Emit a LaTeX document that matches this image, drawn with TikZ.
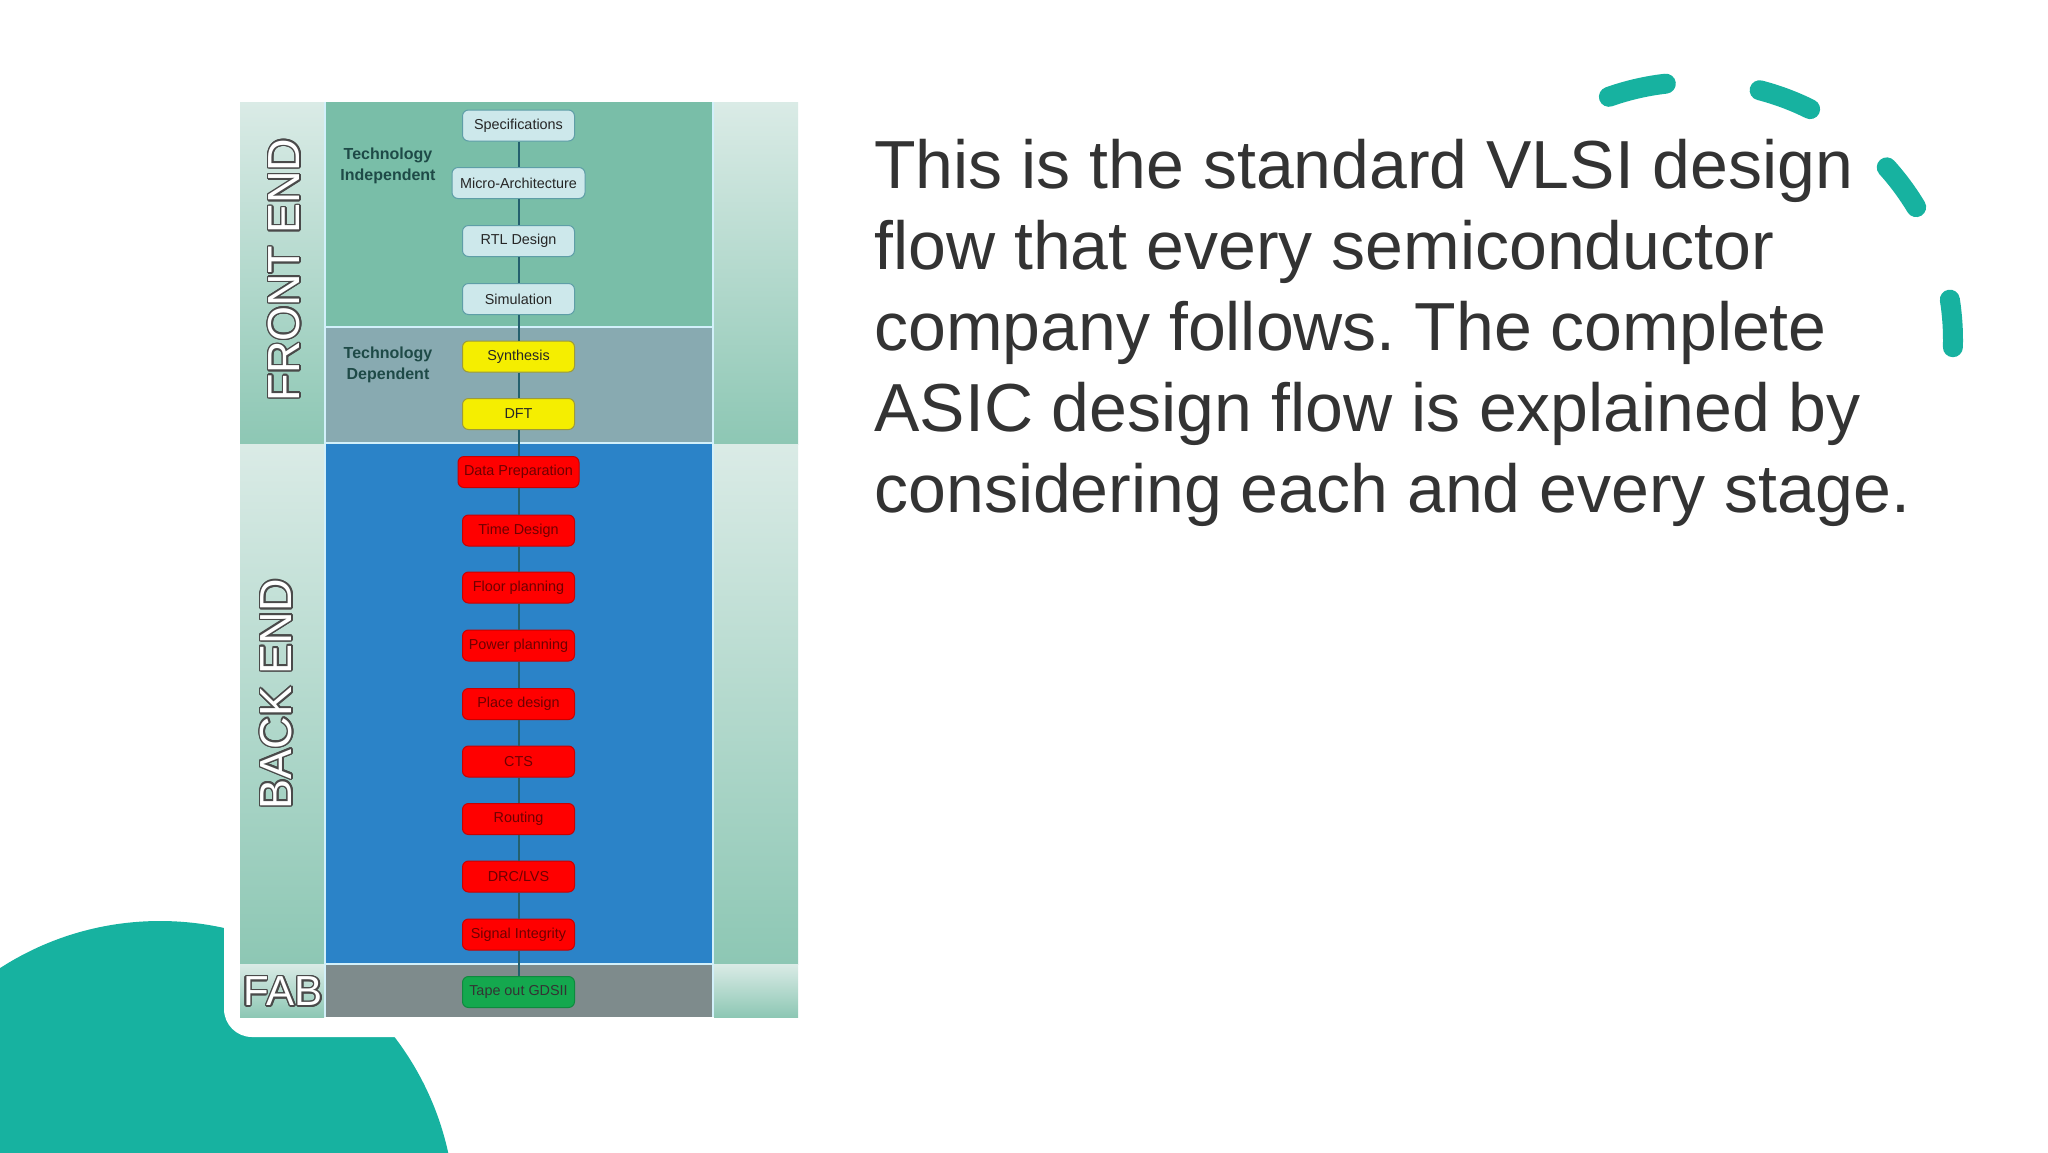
\documentclass[tikz,border=0pt]{standalone}
\usepackage{fontspec}
\setmainfont{Liberation Sans}
\usepackage[copies]{contour}
\usetikzlibrary{calc}
\frenchspacing
\definecolor{ink}{HTML}{333333}
\definecolor{sea}{HTML}{17B2A0}
\definecolor{indep}{HTML}{79BEA8}
\definecolor{dep}{HTML}{88AAB1}
\definecolor{backend}{HTML}{2B83C8}
\definecolor{fabgray}{HTML}{7E8B8C}
\definecolor{stripl}{HTML}{DAEBE6}
\definecolor{stripd}{HTML}{8DC7B4}
\definecolor{sepline}{HTML}{D2F0FA}
\definecolor{flowline}{HTML}{24606E}
\definecolor{labtext}{HTML}{1E4A47}
\definecolor{cyanbox}{HTML}{CDE8EB}
\definecolor{cyanedge}{HTML}{5E9EA7}
\definecolor{yelbox}{HTML}{F5EE00}
\definecolor{yeledge}{HTML}{9C9A3A}
\definecolor{redbox}{HTML}{FF0000}
\definecolor{rededge}{HTML}{C80000}
\definecolor{redtext}{HTML}{6E0000}
\definecolor{grnbox}{HTML}{14A84E}
\definecolor{grnedge}{HTML}{0E8A3E}
\definecolor{outl}{HTML}{4A4A4A}
\contourlength{0.8pt}
\tikzset{
  stage/.style={draw,line width=.5pt,rounded corners=3pt,minimum width=56pt,minimum height=15.5pt,inner sep=0pt,font=\fontsize{7.2}{8}\selectfont},
  stagefe/.style={stage,fill=cyanbox,draw=cyanedge,text=black!85},
  stagetd/.style={stage,fill=yelbox,draw=yeledge,text=black!85},
  stagebe/.style={stage,fill=redbox,draw=rededge,text=redtext},
  stagefab/.style={stage,fill=grnbox,draw=grnedge,text=black!80},
  tech/.style={align=center,font=\fontsize{8}{10.5}\selectfont\bfseries,text=labtext},
  side/.style={text=white,inner sep=0pt,font=\fontsize{22.5}{24}\selectfont},
  strip/.style={top color=stripl,bottom color=stripd},
  sep/.style={draw=sepline,line width=1.2pt},
  link/.style={draw=flowline,line width=1pt},
  ring/.style={draw=sea,line width=10pt,line cap=round},
  para/.style={align=left,anchor=north west,inner sep=0pt,text=ink,font=\fontsize{34}{40.5}\selectfont},
}
\begin{document}
\begin{tikzpicture}[x=0.5pt,y=-0.5pt]
\useasboundingbox (0,0) rectangle (2048,1152);
\clip (0,0) rectangle (2048,1152);
% slide decoration
\fill[sea] (160,1216) circle[radius=295];
\foreach \s/\e in {-109.5/-96.5,-75.5/-63.5,-42/-31,-9/1.6}
  \draw[ring] ($(1695,340)+(\s:258)$) arc[start angle=\s,end angle=\e,radius=258];
\fill[white,rounded corners=14pt] (224,40) rectangle (840,1037);
% side strips
\shade[strip] (240,102) rectangle (324,444);
\shade[strip] (240,444) rectangle (324,964);
\shade[strip] (240,964) rectangle (324,1017);
\shade[strip] (714,102) rectangle (798,444);
\shade[strip] (714,444) rectangle (798,964);
\shade[strip] (714,964) rectangle (798,1017);
% centre panel
\fill[indep] (326,102) rectangle (712,327);
\fill[dep] (326,327) rectangle (712,443);
\fill[backend] (326,443) rectangle (712,964);
\fill[fabgray] (326,964) rectangle (712,1017);
\draw[sep] (326,327) -- (712,327);
\draw[sep] (326,443) -- (712,443);
\draw[sep] (326,964) -- (712,964);
\draw[sep] (325,102) -- (325,1017);
\draw[sep] (713,102) -- (713,1017);
\node[side,rotate=90] (fe) at (285,270) {\contour{outl}{FRONT END}};
\node[side,rotate=90] (be) at (277,694) {\contour{outl}{BACK END}};
\node[side,font=\fontsize{21}{22}\selectfont] (fab) at (283,992) {\contour{outl}{FAB}};
\node[tech] (ti) at (388,166) {Technology\\Independent};
\node[tech] (td) at (388,365) {Technology\\Dependent};
% flow
\node[stagefe] (spec) at (518.5,125.5) {Specifications};
\node[stagefe,minimum width=66.5pt] (march) at (518.5,183) {Micro-Architecture};
\node[stagefe] (rtl) at (518.5,241) {RTL Design};
\node[stagefe] (sim) at (518.5,299) {Simulation};
\node[stagetd] (syn) at (518.5,356.5) {Synthesis};
\node[stagetd] (dft) at (518.5,414) {DFT};
\node[stagebe,minimum width=60.5pt] (dprep) at (518.5,472) {Data Preparation};
\node[stagebe] (tdes) at (518.5,530.5) {Time Design};
\node[stagebe] (floor) at (518.5,587.5) {Floor planning};
\node[stagebe] (power) at (518.5,645.5) {Power planning};
\node[stagebe] (place) at (518.5,704) {Place design};
\node[stagebe] (cts) at (518.5,761.5) {CTS};
\node[stagebe] (route) at (518.5,819) {Routing};
\node[stagebe] (drc) at (518.5,876.5) {DRC/LVS};
\node[stagebe] (si) at (518.5,934.5) {Signal Integrity};
\node[stagefab] (tape) at (518.5,992) {Tape out GDSII};
\foreach \a/\b in {spec/march,march/rtl,rtl/sim,sim/syn,syn/dft,dft/dprep,dprep/tdes,tdes/floor,floor/power,power/place,place/cts,cts/route,route/drc,drc/si,si/tape}
  \draw[link] (\a) -- (\b);
% text
\node[para] (blurb) at (874,139) {This is the standard VLSI design\\flow that every semiconductor\\company follows. The complete\\ASIC design flow is explained by\\considering each and every stage.};
\end{tikzpicture}
\end{document}
